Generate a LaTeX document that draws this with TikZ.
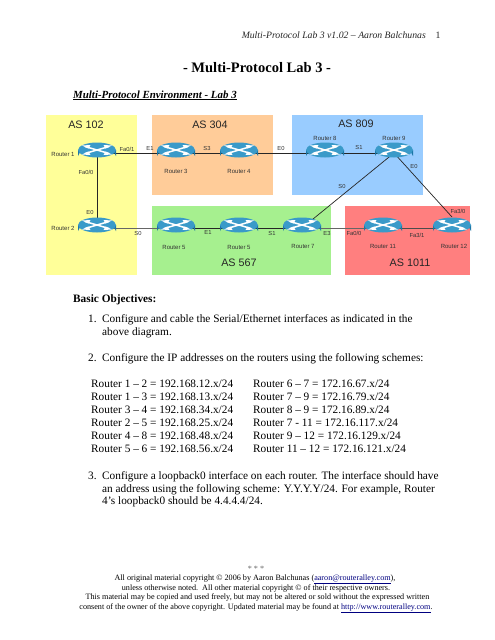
\documentclass[tikz,border=0pt]{standalone}
\usepackage{fontspec}
\setmainfont{Liberation Serif}
\setsansfont{Liberation Sans}
\definecolor{as102}{HTML}{FFFF99}
\definecolor{as304}{HTML}{FFCC99}
\definecolor{as809}{HTML}{99CCFF}
\definecolor{as567}{HTML}{A6F08F}
\definecolor{as1011}{HTML}{FF7F7F}
\definecolor{rtop}{HTML}{3A9AC9}
\definecolor{rbody}{HTML}{1B76A6}
\definecolor{linkblue}{HTML}{000080}
\tikzset{
  x=1pt,y=-1pt,
  astitle/.style={font=\sffamily\fontsize{10.8}{12}\selectfont,text=black!85,inner sep=0pt},
  rlabel/.style={font=\sffamily\fontsize{6}{7}\selectfont,text=black!80,inner sep=0pt},
  iflabel/.style={font=\sffamily\fontsize{5.8}{7}\selectfont,text=black!80,inner sep=0pt},
  body/.style={anchor=base west,inner sep=0pt,font=\fontsize{11.3}{13}\selectfont,text=black},
  foot/.style={anchor=base,inner sep=0pt,font=\fontsize{8.15}{9.5}\selectfont,text=black},
  wire/.style={line width=0.7pt,draw=black!85},
  routerhit/.style={minimum width=38pt,minimum height=22pt,inner sep=0pt,outer sep=0pt},
  pics/router/.style={code={
    \fill[rbody] (-19,-3) -- (-19,3) arc[start angle=180,end angle=360,x radius=19,y radius=7.5] -- (19,-3) -- cycle;
    \fill[rtop] (0,-3) ellipse[x radius=19,y radius=7.5];
    \draw[white,line width=1.5pt] (-12,-6.5) -- (12,0.5) (-12,0.5) -- (12,-6.5);
    \fill[white] (-15,-7.5) -- (-6.5,-8) -- (-8.5,-4.5) -- cycle;
    \fill[white] (15,-7.5) -- (6.5,-8) -- (8.5,-4.5) -- cycle;
    \fill[white] (-15,1.5) -- (-6.5,2) -- (-8.5,-1.5) -- cycle;
    \fill[white] (15,1.5) -- (6.5,2) -- (8.5,-1.5) -- cycle;
  }}
}
\begin{document}
\begin{tikzpicture}
\useasboundingbox (0,0) rectangle (495,640);
\fill[white] (0,0) rectangle (495,640);
% header
\node[anchor=base east,inner sep=0pt,font=\fontsize{9.74}{11}\selectfont\itshape,text=black!85] (hdr) at (426,38) {Multi-Protocol Lab 3 v1.02 – Aaron Balchunas};
\node[anchor=base,inner sep=0pt,font=\fontsize{9.74}{11}\selectfont,text=black!85] (pg) at (438,38) {1};
\node[anchor=base,inner sep=0pt,font=\bfseries\fontsize{14.5}{16}\selectfont] (title) at (257,72) {- Multi-Protocol Lab 3 -};
\node[anchor=base west,inner sep=0pt,font=\bfseries\itshape\fontsize{10.9}{12}\selectfont] (sub) at (73,98) {\underline{Multi-Protocol Environment - Lab 3}};
% AS areas
\fill[as102] (46,115) rectangle (137,275);
\fill[as304] (152,115) rectangle (273,195);
\fill[as809] (292,115) rectangle (423,195);
\fill[as567] (152,206) rectangle (331,275);
\fill[as1011] (345,206) rectangle (470,275);
\node[astitle] (t102) at (86,125) {AS 102};
\node[astitle] (t304) at (210,125) {AS 304};
\node[astitle] (t809) at (356,124) {AS 809};
\node[astitle] (t567) at (239,263) {AS 567};
\node[astitle] (t1011) at (410,263) {AS 1011};
% router anchors
\node[routerhit] (r1) at (97,153) {};
\node[routerhit] (r2) at (97,228) {};
\node[routerhit] (r3) at (176,153) {};
\node[routerhit] (r4) at (239,153) {};
\node[routerhit] (r8) at (325,153) {};
\node[routerhit] (r9) at (394,153) {};
\node[routerhit] (r5) at (176,228) {};
\node[routerhit] (r6) at (239,228) {};
\node[routerhit] (r7) at (302,228) {};
\node[routerhit] (r11) at (383,228) {};
\node[routerhit] (r12) at (452,228) {};
% links
\draw[wire] (r1.center) -- (r3.center);
\draw[wire] (r3.center) -- (r4.center);
\draw[wire] (r4.center) -- (r8.center);
\draw[wire] (r8.center) -- (r9.center);
\draw[wire] (r1.center) -- (r2.center);
\draw[wire,draw=black!60] (r2.center) -- (r5.center);
\draw[wire] (r5.center) -- (r6.center);
\draw[wire] (r6.center) -- (r7.center);
\draw[wire,draw=black!60] (r7.center) -- (r11.center);
\draw[wire,draw=black!70] (r11.center) -- (r12.center);
\draw[wire] (r7.center) -- (r9.center);
\draw[wire] (r9.center) -- (r12.north);
% routers
\foreach \p in {r1,r2,r3,r4,r5,r6,r7,r8,r9,r11,r12} { \pic at (\p) {router}; }
% router labels
\node[rlabel] (l1) at (63,154) {Router 1};
\node[rlabel] (l2) at (63,228) {Router 2};
\node[rlabel] (l3) at (176,171) {Router 3};
\node[rlabel] (l4) at (239,171) {Router 4};
\node[rlabel] (l8) at (325,138) {Router 8};
\node[rlabel] (l9) at (394,138) {Router 9};
\node[rlabel] (l5) at (174,247) {Router 5};
\node[rlabel] (l6) at (239,247) {Router 5};
\node[rlabel] (l7) at (303,246) {Router 7};
\node[rlabel] (l11) at (383,246) {Router 11};
\node[rlabel] (l12) at (454,246) {Router 12};
% interface labels
\node[iflabel] (i1) at (127,149) {Fa0/1};
\node[iflabel] (i2) at (150,149) {E1};
\node[iflabel] (i3) at (207,149) {S3};
\node[iflabel] (i4) at (281,149) {E0};
\node[iflabel] (i5) at (359,148) {S1};
\node[iflabel] (i6) at (86,172) {Fa0/0};
\node[iflabel] (i7) at (90,212) {E0};
\node[iflabel] (i8) at (138,233) {S0};
\node[iflabel] (i9) at (208,233) {E1};
\node[iflabel] (i10) at (272,233) {S1};
\node[iflabel] (i11) at (327,233) {E3};
\node[iflabel] (i12) at (354,233) {Fa0/0};
\node[iflabel] (i13) at (417,235) {Fa3/1};
\node[iflabel] (i14) at (342,186) {S0};
\node[iflabel] (i15) at (414,167) {E0};
\node[iflabel] (i16) at (458,211) {Fa3/0};
% body text
\node[anchor=base west,inner sep=0pt,font=\bfseries\fontsize{11.3}{13}\selectfont] (b0) at (73,302) {Basic Objectives:};
\node[body] (b1) at (88,322) {1.};
\node[body] (b1a) at (102,322) {Configure and cable the Serial/Ethernet interfaces as indicated in the};
\node[body] (b1b) at (102,335) {above diagram.};
\node[body] (b2) at (88,361) {2.};
\node[body] (b2a) at (102,361) {Configure the IP addresses on the routers using the following schemes:};
\node[body] (c1) at (91,387) {Router 1 – 2 = 192.168.12.x/24};
\node[body] (c2) at (91,400) {Router 1 – 3 = 192.168.13.x/24};
\node[body] (c3) at (91,413) {Router 3 – 4 = 192.168.34.x/24};
\node[body] (c4) at (91,426) {Router 2 – 5 = 192.168.25.x/24};
\node[body] (c5) at (91,439) {Router 4 – 8 = 192.168.48.x/24};
\node[body] (c6) at (91,452) {Router 5 – 6 = 192.168.56.x/24};
\node[body] (d1) at (253,387) {Router 6 – 7 = 172.16.67.x/24};
\node[body] (d2) at (253,400) {Router 7 – 9 = 172.16.79.x/24};
\node[body] (d3) at (253,413) {Router 8 – 9 = 172.16.89.x/24};
\node[body] (d4) at (253,426) {Router 7 - 11 = 172.16.117.x/24};
\node[body] (d5) at (253,439) {Router 9 – 12 = 172.16.129.x/24};
\node[body] (d6) at (253,452) {Router 11 – 12 = 172.16.121.x/24};
\node[body] (b3) at (88,479) {3.};
\node[body] (b3a) at (102,479) {Configure a loopback0 interface on each router. The interface should have};
\node[body] (b3b) at (102,492) {an address using the following scheme: Y.Y.Y.Y/24. For example, Router};
\node[body] (b3c) at (102,504) {4’s loopback0 should be 4.4.4.4/24.};
% footer
\node[foot,text=black!60] (f0) at (256,571) {* * *};
\node[foot] (f2) at (255,580) {All original material copyright © 2006 by Aaron Balchunas ({\color{linkblue}\underline{aaron@routeralley.com}}),};
\node[foot] (f3) at (256,590) {unless otherwise noted.\ \ All other material copyright © of their respective owners.};
\node[foot] (f4) at (257.5,599) {This material may be copied and used freely, but may not be altered or sold without the expressed written};
\node[foot] (f5) at (256,609) {consent of the owner of the above copyright. Updated material may be found at {\color{linkblue}\underline{http://www.routeralley.com}}.};
\end{tikzpicture}
\end{document}
